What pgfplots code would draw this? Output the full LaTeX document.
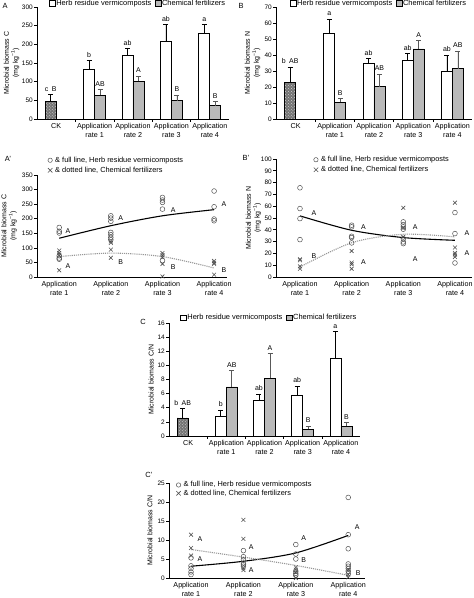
\documentclass[border=0pt]{standalone}
\usepackage{fontspec}
\setmainfont{Liberation Sans}
\usepackage{pgfplots}
\pgfplotsset{compat=1.18}
\usetikzlibrary{patterns}

\definecolor{bargray}{RGB}{185,185,185}
\definecolor{ptcol}{RGB}{80,80,80}
\definecolor{dotcol}{RGB}{150,150,150}
\newcommand{\fs}[1]{\fontsize{#1}{#1}\selectfont}

\tikzset{
  lab/.style={font=\fs{7}, anchor=south, inner sep=1bp, yshift=2bp},
  slab/.style={font=\fs{7}, anchor=center, inner sep=0bp},
  plab/.style={font=\fs{7.5}, anchor=center, inner sep=0bp},
}

\pgfplotsset{
  common/.style={
    scale only axis,
    axis lines*=left,
    axis line style={-, line width=0.7pt, black},
    tick align=outside,
    major tick length=3bp,
    minor tick length=3bp,
    every tick/.style={black, line width=0.6pt},
    /pgf/number format/assume math mode=true,
    yticklabel style={font=\fs{6.5}, inner sep=1bp},
    xticklabel style={font=\fontsize{7.2}{9.5}\selectfont, align=center, inner sep=1bp},
    ylabel style={font=\fontsize{7}{9}\selectfont, align=center},
    clip=false,
    ymin=0,
  },
  barax/.style={
    common,
    xmin=-0.5, xmax=4.5,
    xtick={0,1,2,3,4},
    xticklabels={CK,{Application\\rate 1},{Application\\rate 2},{Application\\rate 3},{Application\\rate 4}},
    minor xtick={0.5,1.5,2.5,3.5},
    major x tick style={draw=none},
    legend columns=2,
    legend cell align=left,
    legend style={draw=none, fill=none, anchor=west, font=\fs{7.5}, inner sep=0pt,
      nodes={inner sep=0.6bp}, column sep=0.3bp,
      /tikz/every even column/.append style={column sep=3bp}},
  },
  scatax/.style={
    common,
    xtick={1,2,3,4},
    xticklabels={{Application\\rate 1},{Application\\rate 2},{Application\\rate 3},{Application\\rate 4}},
    major x tick style={draw=none},
    legend cell align=left,
    legend style={draw=none, fill=none, anchor=south west, font=\fs{7.4}, inner sep=0pt,
      nodes={inner sep=0.6bp}, column sep=2bp},
  },
  whitebar/.style={ybar, bar width=11bp, bar shift=0pt, draw=black, line width=0.7pt, fill=white,
    legend image code/.code={\draw[black, fill=white, line width=0.6pt] (0bp,-2.8bp) rectangle (5.6bp,2.8bp);},
    error bars/.cd, y dir=plus, y explicit,
    error bar style={line width=0.7pt, black},
    error mark options={rotate=90, mark size=2.5bp, line width=0.7pt, black}},
  graybar/.style={ybar, bar width=11bp, bar shift=0pt, draw=black, line width=0.7pt, fill=bargray,
    legend image code/.code={\draw[black, fill=bargray, line width=0.6pt] (0bp,-2.8bp) rectangle (5.6bp,2.8bp);},
    error bars/.cd, y dir=plus, y explicit,
    error bar style={line width=0.7pt, black!65},
    error mark options={rotate=90, mark size=2.5bp, line width=0.7pt, black!65}},
  ckbar/.style={ybar, bar width=11bp, bar shift=0pt, draw=black, line width=0.7pt, fill=black!55,
    postaction={pattern=crosshatch dots, pattern color=gray!35}, forget plot,
    error bars/.cd, y dir=plus, y explicit,
    error bar style={line width=0.7pt, black},
    error mark options={rotate=90, mark size=2.5bp, line width=0.7pt, black}},
  circ/.style={only marks, mark=o, mark size=2.4bp, ptcol, mark options={line width=0.5pt},
    legend image code/.code={\draw[ptcol, line width=0.5pt] (2.5bp,0bp) circle (2.2bp);}},
  crs/.style={only marks, mark=x, mark size=2.7bp, ptcol, mark options={line width=0.6pt},
    legend image code/.code={\draw[ptcol, line width=0.6pt] (0.3bp,-2.2bp) -- (4.7bp,2.2bp) (0.3bp,2.2bp) -- (4.7bp,-2.2bp);}},
  solidl/.style={black, line width=1.1pt, smooth, no marks, forget plot},
  dotl/.style={dotcol, line width=1.1pt, densely dotted, smooth, no marks, forget plot},
}

\begin{document}
\begin{tikzpicture}
\useasboundingbox (0bp,0bp) rectangle (474bp,598bp);

% ---------------- Panel A ----------------
\begin{axis}[barax, at={(37bp,479bp)}, anchor=south west, width=192bp, height=112bp,
  ymax=300, ytick={0,50,...,300},
  ylabel={Microbial biomass C\\(mg kg\textsuperscript{−1})},
  ylabel style={at={(axis description cs:-0.133,0.5)}, anchor=center},
  legend style={at={(axis description cs:0.0625,1)}, yshift=3.4bp}]
\addplot[ckbar] coordinates {(-0.143,48) +- (0,18)};
\addplot[whitebar] coordinates {(0.857,133) +- (0,24) (1.857,171) +- (0,18) (2.857,207) +- (0,46) (3.857,230) +- (0,23)};
\addlegendentry{Herb residue vermicomposts}
\addplot[graybar] coordinates {(1.143,64) +- (0,15) (2.143,101) +- (0,14) (3.143,49) +- (0,15) (4.143,36) +- (0,10)};
\addlegendentry{Chemical fertilizers}
\node[lab] at (axis cs:-0.143,66) {c\enspace B};
\node[lab] at (axis cs:0.857,157) {b};
\node[lab] at (axis cs:1.143,79) {AB};
\node[lab] at (axis cs:1.857,189) {ab};
\node[lab] at (axis cs:2.143,115) {A};
\node[lab] at (axis cs:2.857,253) {ab};
\node[lab] at (axis cs:3.143,64) {B};
\node[lab] at (axis cs:3.857,253) {a};
\node[lab] at (axis cs:4.143,46) {B};
\end{axis}

% ---------------- Panel B ----------------
\begin{axis}[barax, at={(276bp,479bp)}, anchor=south west, width=196bp, height=112bp,
  ymax=70, ytick={0,10,...,70},
  ylabel={Microbial biomass N\\(mg kg\textsuperscript{−1})},
  ylabel style={at={(axis description cs:-0.12,0.5)}, anchor=center},
  legend style={at={(axis description cs:0.071,1)}, yshift=3.4bp}]
\addplot[ckbar] coordinates {(-0.14,23) +- (0,9.5)};
\addplot[whitebar] coordinates {(0.86,53.4) +- (0,9) (1.86,34.7) +- (0,3.1) (2.86,36.8) +- (0,4.1) (3.86,29.5) +- (0,10.4)};
\addlegendentry{Herb residue vermicomposts}
\addplot[graybar] coordinates {(1.14,10.6) +- (0,2.3) (2.14,20.1) +- (0,7.9) (3.14,43.8) +- (0,5.2) (4.14,31.4) +- (0,11)};
\addlegendentry{Chemical fertilizers}
\node[lab] at (axis cs:-0.14,32.5) {b\enspace AB};
\node[lab] at (axis cs:0.86,62.4) {a};
\node[lab] at (axis cs:1.14,12.9) {B};
\node[lab] at (axis cs:1.86,37.8) {ab};
\node[lab] at (axis cs:2.14,28) {AB};
\node[lab] at (axis cs:2.86,40.9) {ab};
\node[lab] at (axis cs:3.14,49) {A};
\node[lab] at (axis cs:3.86,39.9) {ab};
\node[lab] at (axis cs:4.14,42.4) {AB};
\end{axis}

% ---------------- Panel A' ----------------
\begin{axis}[scatax, at={(37bp,321bp)}, anchor=south west, width=190bp, height=102bp,
  xmin=0.57, xmax=4.25, ymax=350, ytick={0,50,...,350},
  ylabel={Microbial biomass C\\(mg kg\textsuperscript{−1})},
  ylabel style={at={(axis description cs:-0.147,0.5)}, anchor=center},
  legend style={at={(axis description cs:0.055,1)}, yshift=0.5bp, row sep=2bp}]
\addplot[circ] table {
x y
1 170
1 157
1 151
1 73
1 65
1 61
2 210
2 202
2 191
2 153
2 145
2 136
2 128
3 273
3 264
3 256
3 233
3 56
4 295
4 241
4 199
4 193
};
\addlegendentry{\& full line, Herb residue vermicomposts}
\addplot[crs] table {
x y
1 91
1 82
1 75
1 23
2 122
2 117
2 94
2 66
3 82
3 75
3 68
3 45
3 2
4 55
4 49
4 45
4 8
};
\addlegendentry{\& dotted line, Chemical fertilizers}
\addplot[solidl] coordinates {(1,133) (2,176) (3,210) (4,231)};
\addplot[dotl] coordinates {(1,70) (2,82) (3,70) (4,31)};
\node[slab] at (axis cs:1.17,157) {A};
\node[slab] at (axis cs:1.17,38) {A};
\node[slab] at (axis cs:2.19,201) {A};
\node[slab] at (axis cs:2.19,50) {B};
\node[slab] at (axis cs:3.21,231) {A};
\node[slab] at (axis cs:3.21,34) {B};
\node[slab] at (axis cs:4.19,250) {A};
\node[slab] at (axis cs:4.19,25) {B};
\end{axis}

% ---------------- Panel B' ----------------
\begin{axis}[scatax, at={(276bp,321bp)}, anchor=south west, width=196bp, height=118bp,
  xmin=0.536, xmax=4.33, ymax=100, ytick={0,10,...,100},
  ylabel={Microbial biomass N\\(mg kg\textsuperscript{−1})},
  ylabel style={at={(axis description cs:-0.115,0.5)}, anchor=center},
  legend style={at={(axis description cs:0.19,0.873)}, row sep=2bp}]
\addplot[circ] table {
x y
1 75.6
1 58
1 49.5
1 31.7
2 43.9
2 42.5
2 34.5
2 33.4
2 28.9
3 46.7
3 44.4
3 42.5
3 40.5
3 32.5
3 29.7
3 28.3
4 54.6
4 36.8
4 11.9
};
\addlegendentry{\& full line, Herb residue vermicomposts}
\addplot[crs] table {
x y
1 15
1 14.2
1 9
1 7
2 22
2 12.2
2 10.8
2 7
3 58.6
3 41.6
3 34
4 63
4 25
4 20.4
4 19
4 17
};
\addlegendentry{\& dotted line, Chemical fertilizers}
\addplot[solidl] coordinates {(1,51.8) (2,39.6) (3,33.4) (4,31.1)};
\addplot[dotl] coordinates {(1,8.5) (2,29) (3,36.2) (4,34)};
\node[slab] at (axis cs:1.27,54.3) {A};
\node[slab] at (axis cs:1.27,17.5) {B};
\node[slab] at (axis cs:2.23,41.9) {A};
\node[slab] at (axis cs:2.23,12.5) {A};
\node[slab] at (axis cs:3.23,41.9) {A};
\node[slab] at (axis cs:3.23,15) {A};
\node[slab] at (axis cs:4.23,37.4) {A};
\node[slab] at (axis cs:4.23,20.4) {A};
\end{axis}

% ---------------- Panel C ----------------
\begin{axis}[barax, at={(169bp,162bp)}, anchor=south west, width=191bp, height=113bp,
  ymax=16, ytick={0,2,...,16},
  ylabel={Microbial biomass C/N},
  ylabel style={at={(axis description cs:-0.094,0.5)}, anchor=center},
  legend style={at={(axis description cs:0.058,1)}, yshift=5bp}]
\addplot[ckbar] coordinates {(-0.144,2.56) +- (0,1.34)};
\addplot[whitebar] coordinates {(0.856,2.8) +- (0,0.9) (1.856,5.1) +- (0,0.85) (2.856,5.7) +- (0,1.35) (3.856,11.0) +- (0,3.75)};
\addlegendentry{Herb residue vermicomposts}
\addplot[graybar] coordinates {(1.144,6.95) +- (0,2.3) (2.144,8.15) +- (0,3.55) (3.144,0.95) +- (0,0.45) (4.144,1.4) +- (0,0.55)};
\addlegendentry{Chemical fertilizers}
\node[lab] at (axis cs:-0.144,3.9) {b\enspace AB};
\node[lab] at (axis cs:0.856,3.7) {b};
\node[lab] at (axis cs:1.144,9.25) {AB};
\node[lab] at (axis cs:1.856,5.95) {ab};
\node[lab] at (axis cs:2.144,11.7) {A};
\node[lab] at (axis cs:2.856,7.05) {ab};
\node[lab] at (axis cs:3.144,1.4) {B};
\node[lab] at (axis cs:3.856,14.75) {a};
\node[lab] at (axis cs:4.144,1.95) {B};
\end{axis}

% ---------------- Panel C' ----------------
\begin{axis}[scatax, at={(169bp,20bp)}, anchor=south west, width=196bp, height=95bp,
  xmin=0.58, xmax=4.32, ymax=25, ytick={0,5,...,25},
  ylabel={Microbial biomass C/N},
  ylabel style={at={(axis description cs:-0.097,0.5)}, anchor=center},
  legend style={at={(axis description cs:0.035,0.847)}, row sep=0.3bp}]
\addplot[circ] table {
x y
1 5.3
1 3.2
1 2.5
1 1.6
1 0.9
2 7.2
2 5.6
2 4.8
2 3.9
2 3.5
2 3.1
3 8.8
3 6.3
3 5.0
3 1.8
3 1.2
3 0.7
4 21.2
4 11.4
4 7.7
4 3.7
4 3.1
4 2.5
4 1.8
4 1.1
};
\addlegendentry{\& full line, Herb residue vermicomposts}
\addplot[crs] table {
x y
1 11.4
1 7.9
1 5.9
2 15.3
2 10.3
2 2.6
2 2.1
3 2.8
3 2.2
3 1.5
3 0
4 2.2
4 0.9
4 0.2
};
\addlegendentry{\& dotted line, Chemical fertilizers}
\addplot[solidl] coordinates {(1,3.1) (2,4.4) (3,6.6) (4,11.2)};
\addplot[dotl] coordinates {(1,7.5) (2,5.5) (3,3.3) (4,0.7)};
\node[slab] at (axis cs:1.17,10.3) {A};
\node[slab] at (axis cs:1.17,5.0) {A};
\node[slab] at (axis cs:2.15,8.1) {A};
\node[slab] at (axis cs:2.15,2.1) {A};
\node[slab] at (axis cs:3.15,10.5) {A};
\node[slab] at (axis cs:3.15,4.8) {B};
\node[slab] at (axis cs:4.17,13.4) {A};
\node[slab] at (axis cs:4.19,1.3) {B};
\end{axis}

% panel letters
\node[plab] at (5bp,592bp) {A};
\node[plab] at (241bp,592bp) {B};
\node[plab] at (8bp,439bp) {A'};
\node[plab] at (246bp,440bp) {B'};
\node[plab] at (143bp,276bp) {C};
\node[plab] at (149bp,123bp) {C'};
\end{tikzpicture}
\end{document}
